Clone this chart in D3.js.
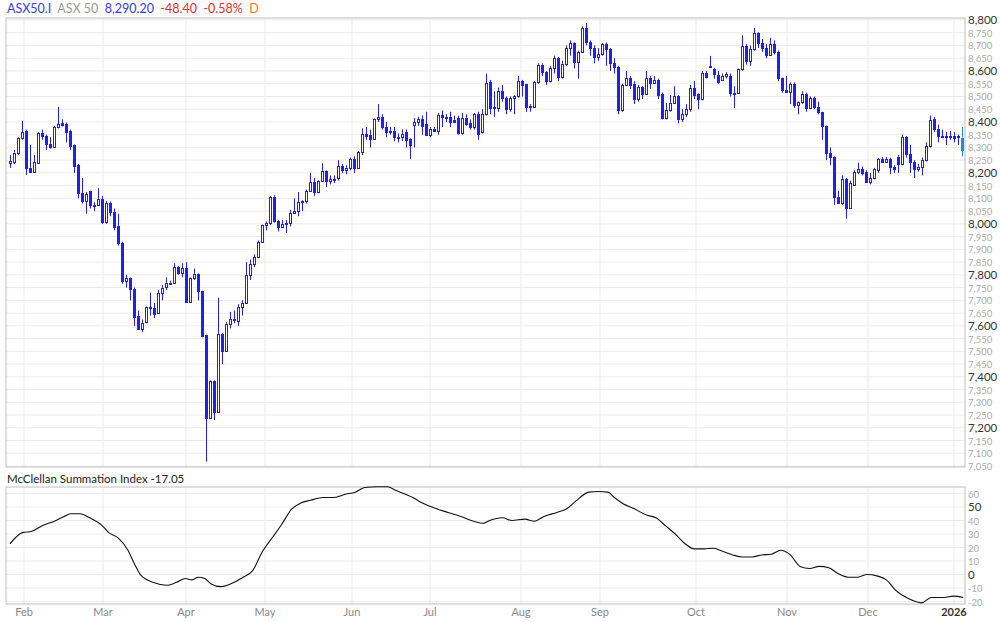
<!DOCTYPE html>
<html><head><meta charset="utf-8">
<script src="https://cdn.jsdelivr.net/npm/d3@7"></script>
<style>body{margin:0;background:#fff}svg{font-family:Lato,"Open Sans",sans-serif}</style>
</head><body><svg id="c" width="1000" height="622"></svg>
<script>
// [open, high, low, close] per trading day
const candles = [
[8240,8270,8220,8246],[8246,8290,8235,8280],[8280,8340,8270,8337],[8337,8404,8330,8361],[8365,8370,8192,8220],
[8220,8310,8200,8204],[8204,8270,8200,8243],[8240,8360,8235,8357],[8357,8370,8330,8345],[8345,8350,8290,8314],
[8314,8340,8295,8302],[8302,8385,8298,8380],[8380,8459,8375,8392],[8396,8410,8382,8388],[8392,8398,8320,8361],
[8365,8370,8290,8306],[8310,8312,8200,8228],[8231,8235,8100,8121],[8121,8180,8080,8090],[8090,8125,8040,8117],
[8129,8130,8060,8074],[8074,8085,8050,8074],[8074,8140,8070,8098],[8098,8110,8000,8008],[8008,8090,8000,8082],
[8082,8088,8030,8047],[8047,8060,7975,7988],[7992,8040,7915,7925],[7925,7930,7765,7776],[7776,7800,7750,7788],
[7788,7790,7700,7745],[7745,7750,7600,7635],[7639,7660,7590,7588],[7588,7625,7575,7612],[7615,7676,7610,7674],
[7674,7730,7640,7670],[7670,7690,7630,7647],[7651,7740,7648,7729],[7729,7760,7700,7749],[7753,7790,7740,7769],
[7769,7777,7765,7769],[7769,7845,7768,7831],[7831,7835,7800,7808],[7808,7845,7790,7827],[7827,7850,7690,7694],
[7694,7790,7690,7788],[7788,7825,7780,7804],[7804,7806,7700,7737],[7737,7738,7555,7561],[7565,7566,7067,7239],
[7239,7386,7236,7384],[7384,7386,7230,7263],[7263,7710,7260,7569],[7569,7572,7450,7502],[7502,7615,7500,7608],
[7608,7655,7590,7627],[7627,7660,7610,7627],[7620,7685,7600,7674],[7674,7700,7640,7690],[7690,7850,7688,7800],
[7800,7860,7780,7843],[7843,7880,7830,7870],[7870,7935,7865,7929],[7929,7998,7925,7996],[7996,8010,7975,8004],
[8004,8110,7995,8106],[8106,8112,8005,8012],[8012,8015,7970,7988],[7988,8015,7985,8000],[8000,8015,7965,8004],
[8004,8055,7990,8043],[8043,8100,8040,8051],[8051,8125,8030,8086],[8086,8093,8050,8090],[8090,8135,8080,8129],
[8129,8200,8125,8165],[8165,8180,8110,8125],[8125,8171,8120,8168],[8168,8238,8165,8208],[8208,8210,8145,8168],
[8168,8190,8155,8176],[8176,8190,8160,8176],[8180,8250,8170,8227],[8227,8235,8200,8212],[8212,8230,8195,8220],
[8220,8260,8210,8255],[8255,8265,8200,8220],[8220,8286,8215,8282],[8282,8375,8270,8353],[8353,8380,8330,8345],
[8349,8370,8300,8333],[8333,8414,8330,8412],[8412,8470,8400,8420],[8420,8430,8370,8380],[8380,8400,8340,8361],
[8365,8380,8350,8365],[8365,8380,8325,8341],[8341,8355,8320,8341],[8341,8370,8325,8353],[8361,8370,8300,8329],
[8333,8335,8255,8310],[8388,8415,8300,8400],[8400,8420,8385,8412],[8412,8425,8350,8384],[8392,8440,8349,8349],
[8349,8380,8340,8373],[8373,8380,8360,8365],[8365,8435,8350,8427],[8427,8445,8380,8420],[8420,8430,8400,8420],
[8420,8440,8380,8400],[8408,8425,8395,8400],[8416,8425,8350,8357],[8357,8435,8350,8416],[8416,8430,8385,8392],
[8396,8410,8370,8380],[8380,8435,8370,8431],[8431,8440,8330,8353],[8361,8450,8355,8431],[8431,8590,8425,8553],
[8557,8565,8430,8455],[8455,8520,8420,8457],[8455,8535,8440,8522],[8522,8545,8480,8494],[8494,8500,8430,8451],
[8451,8500,8440,8494],[8494,8505,8430,8502],[8502,8580,8495,8561],[8561,8565,8500,8545],[8549,8550,8440,8459],
[8463,8470,8440,8463],[8459,8560,8455,8557],[8557,8630,8550,8624],[8624,8630,8580,8596],[8596,8600,8545,8561],
[8561,8620,8555,8612],[8612,8660,8590,8651],[8651,8655,8560,8577],[8577,8640,8570,8628],[8628,8700,8620,8690],
[8690,8720,8660,8710],[8710,8712,8610,8635],[8635,8680,8570,8675],[8675,8775,8670,8769],[8769,8788,8700,8714],
[8714,8720,8660,8690],[8690,8700,8630,8655],[8655,8690,8640,8667],[8667,8710,8660,8706],[8706,8712,8620,8686],
[8686,8690,8600,8631],[8631,8650,8590,8616],[8616,8620,8430,8447],[8447,8550,8440,8545],[8545,8600,8540,8573],
[8573,8580,8530,8545],[8549,8560,8470,8490],[8490,8545,8480,8537],[8537,8540,8490,8510],[8510,8600,8505,8573],
[8573,8580,8530,8553],[8553,8580,8550,8565],[8565,8570,8490,8506],[8510,8515,8410,8416],[8416,8475,8410,8447],
[8447,8505,8440,8475],[8475,8540,8470,8502],[8502,8505,8395,8412],[8412,8450,8400,8431],[8431,8470,8420,8451],
[8451,8545,8440,8533],[8533,8560,8490,8506],[8510,8512,8450,8490],[8490,8600,8485,8592],[8592,8600,8570,8577],
[8620,8659,8618,8620],[8608,8612,8570,8588],[8584,8600,8550,8557],[8565,8590,8560,8580],[8580,8595,8570,8588],
[8580,8590,8500,8514],[8514,8540,8455,8514],[8514,8610,8510,8608],[8608,8740,8600,8698],[8698,8705,8625,8639],
[8639,8700,8620,8686],[8686,8769,8680,8749],[8749,8752,8690,8710],[8710,8725,8675,8690],[8690,8705,8650,8663],
[8663,8730,8660,8706],[8706,8720,8665,8675],[8675,8680,8560,8573],[8573,8575,8515,8526],[8526,8580,8515,8518],
[8518,8555,8470,8549],[8549,8555,8455,8467],[8467,8480,8430,8478],[8478,8520,8470,8510],[8510,8515,8440,8455],
[8455,8500,8450,8494],[8494,8500,8450,8459],[8459,8480,8430,8439],[8439,8440,8330,8384],[8384,8386,8250,8278],
[8278,8300,8230,8263],[8263,8265,8075,8106],[8106,8130,8080,8082],[8082,8190,8075,8176],[8176,8180,8020,8063],
[8063,8170,8060,8160],[8153,8210,8150,8204],[8204,8240,8195,8215],[8215,8225,8190,8200],[8204,8210,8160,8165],
[8165,8200,8155,8180],[8180,8220,8175,8215],[8212,8258,8200,8255],[8255,8262,8240,8245],[8245,8262,8240,8255],
[8255,8260,8195,8224],[8224,8230,8200,8216],[8263,8270,8200,8235],[8235,8350,8230,8341],[8341,8345,8260,8274],
[8274,8310,8200,8243],[8243,8250,8180,8216],[8216,8235,8205,8224],[8224,8260,8190,8251],[8251,8320,8245,8306],
[8306,8425,8300,8408],[8412,8420,8360,8373],[8373,8390,8320,8345],[8345,8370,8340,8345],[8345,8360,8310,8345],
[8345,8365,8330,8345],[8345,8360,8320,8338],[8341,8350,8310,8345],[8338,8380,8265,8290]
];
const sumDay = [0,3.1,5.5,7.9,11.1,13.5,15.1,17.5,19.9,23.1,24.7,27.1,29.5,31.1,32.7,35.9,39.1,41.5,43.9,45.5,47.1,48.7,50.3,52.7,55.1,58.3,60.7,63.1,65.5,67.9,70.3,72.7,75.1,78.3,80.7,83.9,86.3,88.7,91.9,94.3,96.7,100.7,103.1,106.3,109.5,112.7,115.9,118.3,119.9,123.1,125.5,128.7,131.1,133.5,136.7,139.1,141.5,144.7,147.1,149.5,151.1,153.5,155.9,159.1,161.5,163.9,166.3,168.7,171.1,173.5,175.9,178.3,180.7,183.1,185.5,187.9,190.3,192.7,195.1,197.5,199.9,202.3,204.7,207.1,209.5,211.9,214.3,216.7,219.1,221.5,224.7,227.9,230.3,233.5,235.9,238.3];
const sumVal = [22.75,31,32,36,39.5,43,45,45,42,36,31,27,18,8,-0.5,-6,-8,-6,-3,-4,-2,-3,-7,-9,-7,-2,3,17,27,37,48,53,55,57,57,59.5,61,64.5,65,65,62,57,53,49,46,43,39.5,38,40,42,40,41,39.5,43,46,48.5,54.5,61,61.5,61,57,52,49,44,42,36,30,23,19,19,19.5,17,14.5,13,13,14.5,15,18,14.5,6,4.5,6,5,0.5,-2,-2,0,-1,-4,-12,-18,-21,-17,-17,-16,-17];
const monthLabels = ["Feb","Mar","Apr","May","Jun","Jul","Aug","Sep","Oct","Nov","Dec","2026"];
const monthDay = [3.5,23.25,44,63.75,85.5,105,127.75,147.5,171.5,194.25,214.5,236];
const priceTicks = d3.range(7050, 8801, 50);
const sumTicks = [60,50,40,30,20,10,0,-10,-20];

const svg = d3.select("#c");
const L=6,R=965;
const x = d3.scaleLinear().domain([0,238]).range([10,962]);
const y = d3.scaleLinear().domain([7050,8800]).range([466,20]);
const y2 = d3.scaleLinear().domain([-20,60]).range([601.5,493.5]);
const grid="#ebebeb";
svg.append("g").selectAll("line").data(priceTicks).join("line")
  .attr("x1",L).attr("x2",R).attr("y1",d=>y(d)).attr("y2",d=>y(d)).attr("stroke",grid);
svg.append("g").selectAll("line").data(monthDay).join("line")
  .attr("x1",d=>x(d)).attr("x2",d=>x(d)).attr("y1",18).attr("y2",467).attr("stroke",grid);
svg.append("g").selectAll("line").data(sumTicks).join("line")
  .attr("x1",L).attr("x2",R).attr("y1",d=>y2(d)).attr("y2",d=>y2(d)).attr("stroke",grid);
svg.append("g").selectAll("line").data(monthDay).join("line")
  .attr("x1",d=>x(d)).attr("x2",d=>x(d)).attr("y1",487).attr("y2",604).attr("stroke",grid);
const fr="#bdbdbd";
svg.append("rect").attr("x",L).attr("y",18).attr("width",R-L).attr("height",449).attr("fill","none").attr("stroke",fr);
svg.append("rect").attr("x",L).attr("y",487).attr("width",R-L).attr("height",117).attr("fill","none").attr("stroke",fr);
svg.append("g").selectAll("text").data(priceTicks).join("text")
  .attr("x",968).attr("y",d=>y(d)+4)
  .attr("font-size",d=>d%200===0?11.5:9.5)
  .attr("fill",d=>d%200===0?"#333":"#aaa")
  .text(d=>d3.format(",")(d));
svg.append("g").selectAll("text").data(sumTicks).join("text")
  .attr("x",968).attr("y",d=>y2(d)+4)
  .attr("font-size",d=>d%50===0?11.5:9.5)
  .attr("fill",d=>d%50===0?"#333":"#aaa").text(d=>d);
svg.append("g").selectAll("text").data(monthLabels).join("text")
  .attr("x",(d,i)=>x(monthDay[i])).attr("y",616).attr("text-anchor","middle")
  .attr("font-size",11).attr("font-weight",d=>d==="2026"?"bold":"normal")
  .attr("fill",d=>d==="2026"?"#333":"#888").text(d=>d);
const blue="#2020e6", last="#1e88e5";
const g = svg.append("g");
candles.forEach((c,i)=>{
  const [o,h,l,cl]=c, col = i===candles.length-1?last:blue, cx=Math.round(x(i))+0.5;
  const up = cl>=o;
  g.append("line").attr("x1",cx).attr("x2",cx).attr("y1",y(h)).attr("y2",y(Math.max(o,cl))).attr("stroke",col);
  g.append("line").attr("x1",cx).attr("x2",cx).attr("y1",y(Math.min(o,cl))).attr("y2",y(l)).attr("stroke",col);
  const top=Math.round(y(Math.max(o,cl)))+0.5, hh=Math.max(1,Math.round(y(Math.min(o,cl))-y(Math.max(o,cl))));
  g.append("rect").attr("x",cx-1).attr("y",top).attr("width",2).attr("height",hh)
    .attr("fill",up?"#fff":col).attr("stroke",col).attr("stroke-width",1);
});
svg.append("path").datum(sumDay.map((d,i)=>[d,sumVal[i]]))
  .attr("d",d3.line().x(d=>x(d[0])).y(d=>y2(d[1])).curve(d3.curveMonotoneX))
  .attr("fill","none").attr("stroke","#111").attr("stroke-width",1.1);
const t = svg.append("text").attr("x",7).attr("y",13).attr("font-size",12.5);
[["ASX50.I","#3a3ae0"],["  ASX 50","#999"],["  8,290.20","#3a3ae0"],["  -48.40","#e52b2b"],["  -0.58%","#e52b2b"],["  D","#f07c1a"]]
 .forEach(([s,c])=>t.append("tspan").attr("fill",c).attr("xml:space","preserve").text(s));
svg.append("text").attr("x",7).attr("y",483).attr("font-size",11.5).attr("fill","#222").text("McClellan Summation Index -17.05");
</script></body></html>
